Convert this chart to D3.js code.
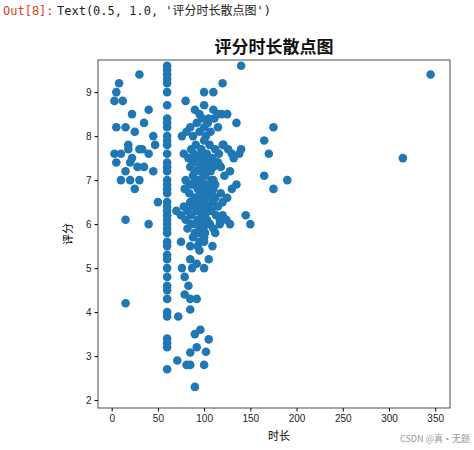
<!DOCTYPE html><html><head><meta charset="utf-8">
<script src="https://d3js.org/d3.v7.min.js"></script>
<style>body{margin:0;background:#fff;font-family:"DejaVu Sans","Noto Sans CJK SC",sans-serif}</style></head><body>
<svg id="c" width="474" height="450"></svg>
<script>
const xTicks=[0,50,100,150,200,250,300,350];
const yTicks=[2,3,4,5,6,7,8,9];
const durations=[
5,3,8,30,15,5,18,3,5,10,22,28,18,25,35,40,45,30,40,15,20,30,45,50,15,40,15,25,35,10,20,33,47,22,12,
60,60,60,60,60,60,60,60,60,60,60,60,60,60,60,60,60,60,60,60,60,60,60,60,60,60,60,60,60,60,60,60,60,60,60,60,60,60,60,60,60,60,60,60,
315,345,190,175,165,170,175,165,140,145,150,120,110,100,80,
72,85,90,96,105,85,92,102,71,81,85,100,90,
76,79,83,79,85,92,85,87,92,100,105,109,95,100,94,106,117,80,
75,78,82,85,88,90,92,95,98,100,102,105,108,110,112,115,118,120,125,130,135,
80,84,88,90,93,96,99,101,104,107,110,114,118,122,128,
78,83,86,89,91,94,97,100,103,106,109,112,116,121,126,132,138,
76,81,85,88,92,95,98,100,102,104,107,111,115,119,
82,86,90,93,96,99,101,103,106,110,113,117,124,
79,84,87,91,94,97,100,103,105,108,112,
85,88,92,95,98,102,105,110,115,120,130,140,
90,95,100,105,110,115,125,135,85,95,100,112,120,128,70,75,88,92,
88,95,100,108,92,98,104,110,96,102,90,86,100,94,97,103,99,93,
95,98,101,104,96,99,102,105,97,100,103,94,
97,100,103,95,98,101,104,99,102,96
];
const ratings=[
9.0,8.8,9.2,9.4,8.2,8.2,7.8,7.6,7.4,7.6,7.5,7.3,7.7,8.1,8.3,8.6,8.0,7.7,7.6,7.2,7.0,7.0,7.2,6.5,6.1,6.0,4.2,6.8,7.3,7.0,7.4,7.7,7.8,8.5,8.8,
9.6,9.5,9.4,9.3,9.2,9.0,8.7,8.4,8.3,8.2,8.0,7.9,7.8,7.6,7.4,7.3,7.2,7.0,6.9,6.8,6.7,6.5,6.4,6.3,6.2,6.1,6.0,5.9,5.8,5.6,5.5,5.3,5.2,5.0,4.8,4.6,4.5,4.3,4.0,3.9,3.4,3.3,3.2,2.7,
7.5,9.4,7.0,8.2,7.9,7.6,6.8,7.1,9.6,6.2,6.0,9.2,9.0,9.0,8.8,
3.9,4.06,3.5,3.6,3.38,3.08,3.2,3.1,2.9,2.8,2.8,2.8,2.3,
5.0,4.8,4.6,4.4,4.3,4.3,5.2,5.0,5.1,5.0,5.2,5.5,5.6,5.7,5.8,6.0,6.1,6.1,
6.2,6.4,6.3,6.5,6.4,6.6,6.3,6.5,6.4,6.2,6.6,6.4,6.3,6.5,6.6,6.4,6.7,6.5,6.6,6.8,6.9,
7.0,6.9,7.1,7.2,6.8,7.0,7.3,7.1,6.9,7.2,7.0,7.4,7.3,7.1,7.2,
7.6,7.5,7.7,7.6,7.8,7.5,7.7,7.9,7.6,7.8,7.5,7.7,7.6,7.8,7.7,7.5,7.6,
8.0,8.1,8.2,8.0,8.3,8.1,8.4,8.2,8.0,8.3,8.1,8.4,8.2,8.5,
5.9,6.0,5.8,6.1,5.9,6.0,5.8,6.1,6.0,5.9,6.2,6.0,6.1,
6.8,6.7,6.9,6.6,6.8,6.7,6.9,6.6,6.8,6.7,6.9,
7.3,7.4,7.5,7.3,7.4,7.5,7.4,7.3,7.4,7.8,7.6,7.7,
8.6,8.5,8.7,8.4,8.6,8.5,8.5,8.3,5.5,5.4,5.6,5.8,6.2,6.0,6.3,5.6,5.7,6.0,
6.9,7.0,7.1,7.0,6.5,6.6,6.7,6.8,7.2,7.3,7.0,6.2,5.8,6.3,6.1,6.4,5.9,5.5,
6.3,6.5,6.2,6.4,6.7,6.1,6.6,6.3,6.9,7.1,6.8,7.0,
7.6,7.4,7.2,6.6,6.2,6.4,6.9,6.0,7.5,7.3
];
const svg=d3.select("#c");
svg.append("text").attr("x",3).attr("y",15).attr("fill","#d84315").style("font-size","12px").style("font-family","DejaVu Sans Mono, monospace").text("Out[8]:");
svg.append("text").attr("x",57).attr("y",15).attr("fill","#222").style("font-size","12px").style("font-family","DejaVu Sans Mono, Noto Sans CJK SC, monospace").text("Text(0.5, 1.0, '评分时长散点图')");
const L=98,R=450,T=60,B=408;
const x=d3.scaleLinear().domain([-14.8,366]).range([L,R]);
const y=d3.scaleLinear().domain([1.82,9.73]).range([B,T]);
svg.append("text").attr("x",(L+R)/2).attr("y",53).attr("text-anchor","middle").style("font-size","17px").style("font-weight","bold").style("font-family","Noto Sans CJK SC").attr("fill","#111").text("评分时长散点图");
const xa=svg.append("g").attr("transform",`translate(0,${B})`).call(d3.axisBottom(x).tickValues(xTicks).tickSize(3.5).tickPadding(3));
const ya=svg.append("g").attr("transform",`translate(${L},0)`).call(d3.axisLeft(y).tickValues(yTicks).tickSize(3.5).tickPadding(3));
[xa,ya].forEach(a=>{a.select(".domain").remove();a.selectAll("text").style("font-size","10px").attr("fill","#222");});
svg.append("rect").attr("x",L).attr("y",T).attr("width",R-L).attr("height",B-T).attr("fill","none").attr("stroke","#222").attr("stroke-width",0.8);
svg.append("g").selectAll("circle").data(durations.map((d,i)=>[d,ratings[i]])).join("circle")
 .attr("cx",d=>x(d[0])).attr("cy",d=>y(d[1])).attr("r",4.3).attr("fill","#1f77b4");
svg.append("text").attr("x",(L+R)/2+5).attr("y",440).attr("text-anchor","middle").style("font-size","11px").style("font-family","Noto Sans CJK SC").text("时长");
svg.append("text").attr("transform",`translate(72,${(T+B)/2})rotate(-90)`).attr("text-anchor","middle").style("font-size","11px").style("font-family","Noto Sans CJK SC").text("评分");
svg.append("text").attr("x",470).attr("y",442).attr("text-anchor","end").attr("fill","#999").style("font-size","9px").style("font-family","Noto Sans CJK SC").text("CSDN @真·无题");
</script></body></html>
